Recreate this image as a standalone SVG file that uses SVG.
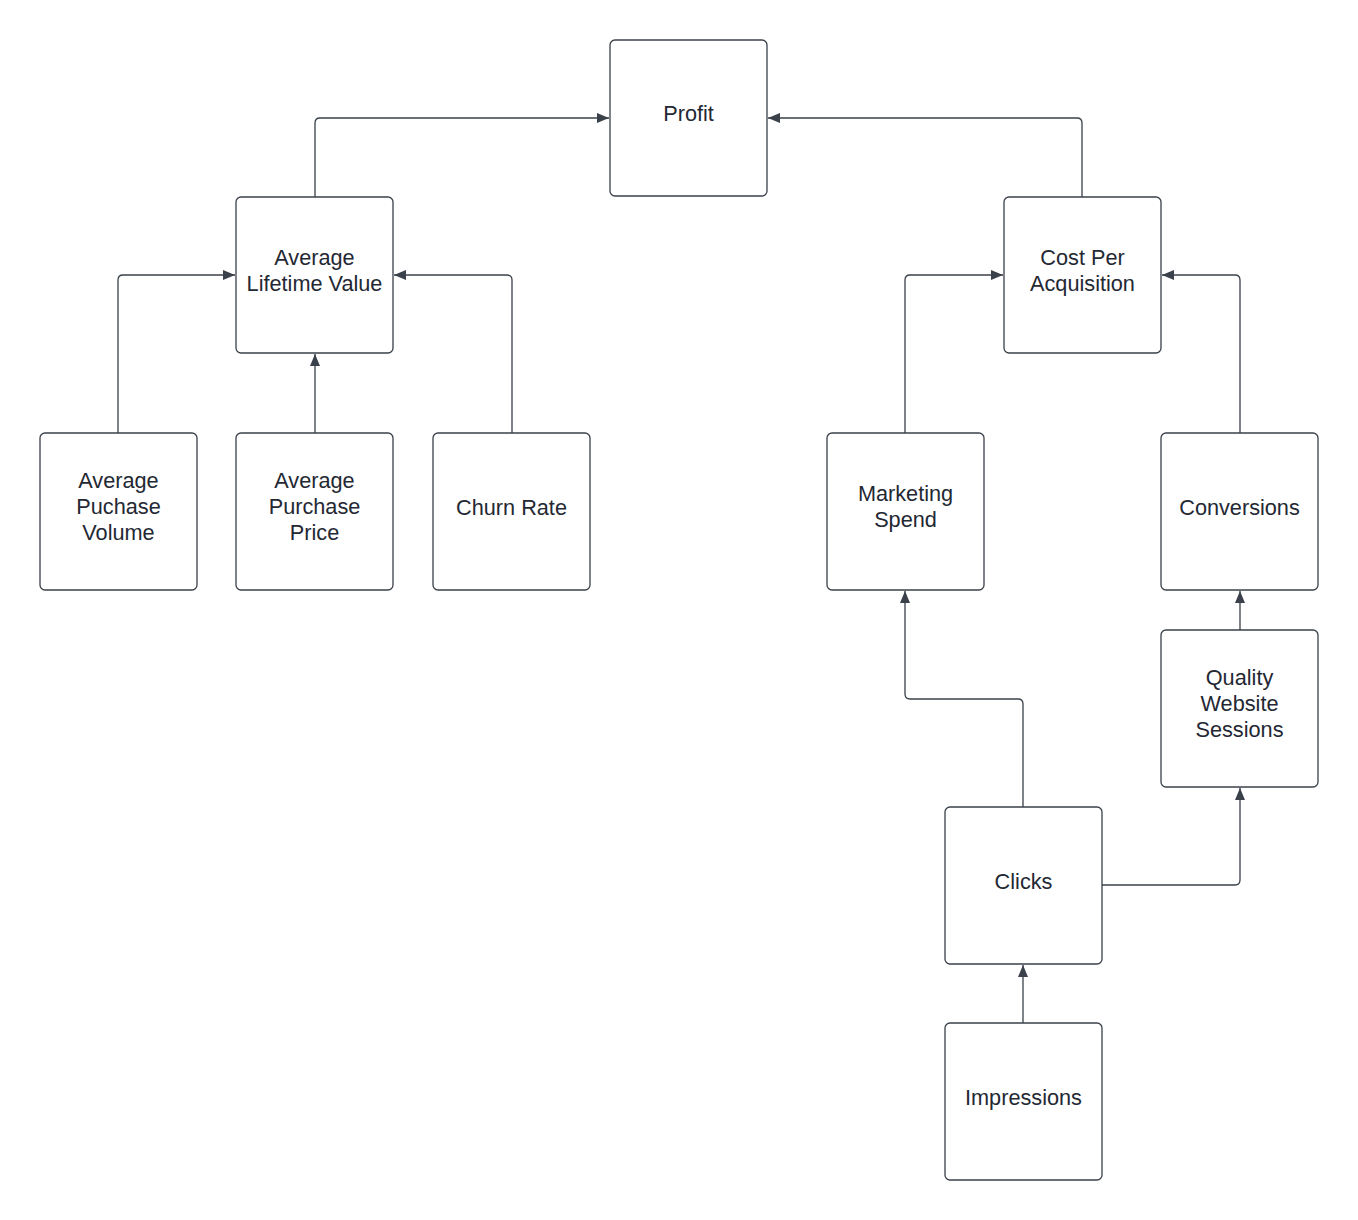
<svg xmlns="http://www.w3.org/2000/svg" width="1358" height="1220" viewBox="0 0 1358 1220">
<style>
.n rect{fill:#fff;stroke:#3a414a;stroke-width:1.3}
.n text{font-family:"Liberation Sans",Arial,sans-serif;font-size:21.7px;fill:#232833;text-anchor:middle}
.c path{fill:none;stroke:#3a414a;stroke-width:1.3;marker-end:url(#ah)}
</style>
<defs>
<marker id="ah" viewBox="0 0 12 10" refX="12" refY="5" markerWidth="12" markerHeight="10" markerUnits="userSpaceOnUse" orient="auto">
<path d="M0,0 L12,5 L0,10 Z" fill="#3a414a"/>
</marker>
</defs>
<rect width="1358" height="1220" fill="#fff"/>
<g class="c">
<path d="M315,197 V123 Q315,118 320,118 H609"/>
<path d="M1082,197 V123 Q1082,118 1077,118 H768"/>
<path d="M118,433 V280 Q118,275 123,275 H235"/>
<path d="M315,433 V354"/>
<path d="M512,433 V280 Q512,275 507,275 H394"/>
<path d="M905,433 V280 Q905,275 910,275 H1003"/>
<path d="M1240,433 V280 Q1240,275 1235,275 H1162"/>
<path d="M1023,807 V704 Q1023,699 1018,699 H910 Q905,699 905,694 V591"/>
<path d="M1240,630 V591"/>
<path d="M1102,885 H1235 Q1240,885 1240,880 V788"/>
<path d="M1023,1023 V965"/>
</g>
<g id="profit" class="n"><rect x="610" y="40" width="157" height="156" rx="5"/><text x="688.5" y="120.5">Profit</text></g>
<g id="alv" class="n"><rect x="236" y="197" width="157" height="156" rx="5"/><text x="314.5" y="264.5">Average</text><text x="314.5" y="290.5">Lifetime Value</text></g>
<g id="apv" class="n"><rect x="40" y="433" width="157" height="157" rx="5"/><text x="118.5" y="487.5">Average</text><text x="118.5" y="513.5">Puchase</text><text x="118.5" y="539.5">Volume</text></g>
<g id="app" class="n"><rect x="236" y="433" width="157" height="157" rx="5"/><text x="314.5" y="487.5">Average</text><text x="314.5" y="513.5">Purchase</text><text x="314.5" y="539.5">Price</text></g>
<g id="churn" class="n"><rect x="433" y="433" width="157" height="157" rx="5"/><text x="511.5" y="514.5">Churn Rate</text></g>
<g id="cpa" class="n"><rect x="1004" y="197" width="157" height="156" rx="5"/><text x="1082.5" y="264.5">Cost Per</text><text x="1082.5" y="290.5">Acquisition</text></g>
<g id="ms" class="n"><rect x="827" y="433" width="157" height="157" rx="5"/><text x="905.5" y="500.5">Marketing</text><text x="905.5" y="526.5">Spend</text></g>
<g id="conv" class="n"><rect x="1161" y="433" width="157" height="157" rx="5"/><text x="1239.5" y="514.5">Conversions</text></g>
<g id="qws" class="n"><rect x="1161" y="630" width="157" height="157" rx="5"/><text x="1239.5" y="684.5">Quality</text><text x="1239.5" y="710.5">Website</text><text x="1239.5" y="736.5">Sessions</text></g>
<g id="clicks" class="n"><rect x="945" y="807" width="157" height="157" rx="5"/><text x="1023.5" y="888.5">Clicks</text></g>
<g id="impr" class="n"><rect x="945" y="1023" width="157" height="157" rx="5"/><text x="1023.5" y="1104.5">Impressions</text></g>
</svg>
